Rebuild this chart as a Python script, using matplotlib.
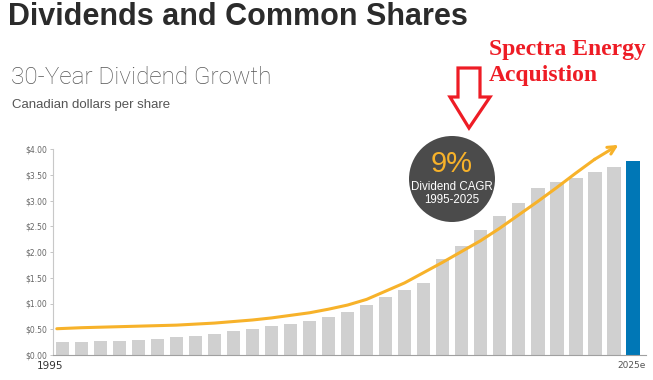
import matplotlib
matplotlib.use("Agg")
import matplotlib.pyplot as plt
from matplotlib import font_manager
from matplotlib.patches import Ellipse, Polygon

# Dividend per share, CAD, 1995 - 2025e
years = list(range(1995, 2026))
dividends = [0.25, 0.25, 0.265, 0.28, 0.29, 0.31, 0.35, 0.375, 0.41, 0.46,
             0.51, 0.57, 0.61, 0.66, 0.73, 0.84, 0.98, 1.13, 1.26, 1.39,
             1.86, 2.12, 2.42, 2.69, 2.96, 3.24, 3.35, 3.44, 3.55, 3.66, 3.77]

# hand-drawn growth curve (trend line)
trend_years = [1994.7, 1996, 1997, 1998, 1999, 2000, 2001, 2002, 2003, 2004,
               2005, 2006, 2007, 2008, 2009, 2010, 2011, 2012, 2013, 2014,
               2015, 2016, 2017, 2018, 2019, 2020, 2021, 2022, 2023, 2024.25]
trend_values = [0.51, 0.53, 0.54, 0.55, 0.56, 0.57, 0.58, 0.60, 0.62, 0.65,
                0.68, 0.72, 0.77, 0.82, 0.89, 0.97, 1.08, 1.24, 1.40, 1.60,
                1.80, 2.01, 2.22, 2.46, 2.72, 2.98, 3.25, 3.53, 3.80, 4.08]

yticks = [0, 0.5, 1, 1.5, 2, 2.5, 3, 3.5, 4]
ytick_labels = ["$0.00", "$0.50", "$1.00", "$1.50", "$2.00", "$2.50",
                "$3.00", "$3.50", "$4.00"]

W, H = 653, 380


def fx(px):
    return px / W


def fy(py):
    return 1 - py / H


def narrow_font():
    # a narrow sans for the light sub-heading, if the system has one
    try:
        font_manager.findfont("Liberation Sans Narrow", fallback_to_default=False)
        return "Liberation Sans Narrow", 19
    except Exception:
        return "Roboto", 17.5


def main():
    fig = plt.figure(figsize=(W / 100, H / 100), dpi=100)
    fig.patch.set_facecolor("white")
    ax = fig.add_axes([fx(53), fy(355), fx(646) - fx(53), fy(149) - fy(355)])

    colors = ["#d0d0d0"] * (len(years) - 1) + ["#0077b6"]
    ax.bar(years, dividends, width=0.72, color=colors, zorder=2)

    ax.plot(trend_years[:-1], trend_values[:-1], color="#f7b22a", lw=2.2,
            solid_capstyle="round", zorder=3, clip_on=False)
    ax.annotate("", xy=(trend_years[-1], trend_values[-1]),
                xytext=(trend_years[-2], trend_values[-2]),
                arrowprops=dict(arrowstyle="->", color="#f7b22a", lw=2.2,
                                mutation_scale=14, shrinkA=0, shrinkB=0),
                annotation_clip=False, zorder=3)

    ax.set_xlim(1994.5, 2025.7)
    ax.set_ylim(0, 4)
    ax.set_yticks(yticks)
    ax.set_yticklabels(ytick_labels, fontsize=5.5, color="#666666")
    ax.tick_params(axis="y", length=2, width=0.6, color="#bbbbbb", pad=2)
    ax.set_xticks([])
    for s in ["top", "right"]:
        ax.spines[s].set_visible(False)
    ax.spines["left"].set_color("#c8c8c8")
    ax.spines["left"].set_linewidth(0.8)
    ax.spines["bottom"].set_color("#a0a0a0")
    ax.spines["bottom"].set_linewidth(0.8)

    fig.text(fx(50), fy(366), "1995", fontsize=7.5, color="#333333",
             ha="center", va="center")
    fig.text(fx(632), fy(365), "2025e", fontsize=6.5, color="#555555",
             ha="center", va="center")

    # headings
    fig.text(fx(8), fy(17), "Dividends and Common Shares", fontsize=22,
             fontweight="bold", color="#2b2b2b", ha="left", va="center",
             family="Liberation Sans")
    sub_family, sub_size = narrow_font()
    fig.text(fx(11), fy(77), "30-Year Dividend Growth", fontsize=sub_size,
             fontweight="light", color="#555555", ha="left", va="center",
             family=sub_family)
    fig.text(fx(12), fy(105), "Canadian dollars per share", fontsize=9.5,
             color="#555555", ha="left", va="center", family="Liberation Sans")

    # CAGR bubble
    fig.add_artist(Ellipse((fx(452), fy(179)), 2 * 43 / W, 2 * 43 / H,
                           transform=fig.transFigure, facecolor="#4b4b4b",
                           edgecolor="none", zorder=5))
    fig.text(fx(452), fy(164), "9%", fontsize=21, color="#f7b22a",
             family="Liberation Sans", ha="center", va="center", zorder=6)
    fig.text(fx(452), fy(187), "Dividend CAGR", fontsize=8.3, color="white",
             ha="center", va="center", family="Liberation Sans", zorder=6)
    fig.text(fx(452), fy(200), "1995-2025", fontsize=8.3, color="white",
             ha="center", va="center", family="Liberation Sans", zorder=6)

    # red annotation
    arrow_px = [(458, 68), (480, 68), (480, 97), (490, 97), (469, 128),
                (450, 97), (458, 97)]
    fig.add_artist(Polygon([(fx(x), fy(y)) for x, y in arrow_px], closed=True,
                           transform=fig.transFigure, facecolor="none",
                           edgecolor="#ee1c25", lw=2.3, zorder=7))
    fig.text(fx(489), fy(50), "Spectra Energy", fontsize=17,
             fontweight="bold", color="#ee1c25", family="Liberation Serif",
             ha="left", va="center")
    fig.text(fx(489), fy(76), "Acquistion", fontsize=17,
             fontweight="bold", color="#ee1c25", family="Liberation Serif",
             ha="left", va="center")

    fig.savefig("out.png", dpi=100)


if __name__ == "__main__":
    main()
